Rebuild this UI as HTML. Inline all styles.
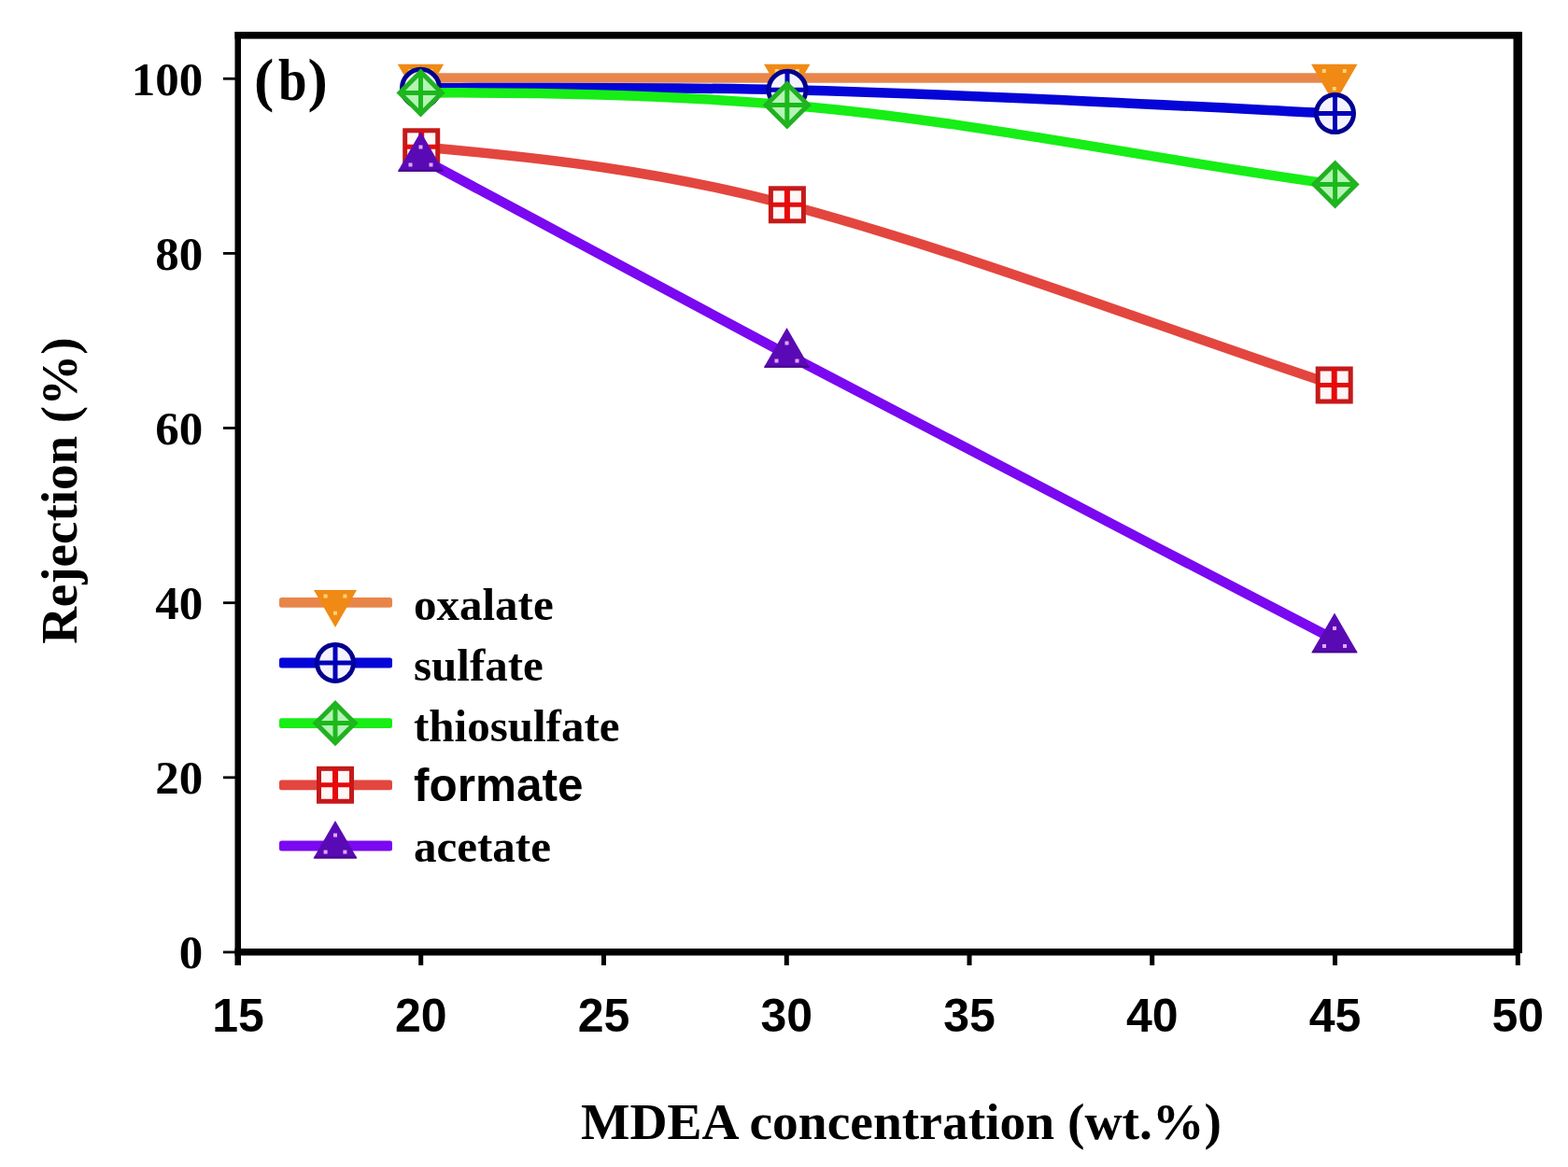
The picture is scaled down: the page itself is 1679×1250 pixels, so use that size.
<!DOCTYPE html><html><head><meta charset="utf-8"><title>Rejection vs MDEA concentration</title><style>html,body{margin:0;padding:0;background:#fff;}svg{display:block;}</style></head><body>
<svg width="1679" height="1250" viewBox="0 0 1679 1250">
<rect width="1679" height="1250" fill="#fff"/>
<path d="M450.5,83.5 L1429.5,83.5" fill="none" stroke="#E8864A" stroke-width="10.5" stroke-linecap="butt"/>
<polygon points="425.8,68.7 475.2,68.7 450.5,111.6" fill="#F08A14"/><rect x="437.5" y="74.0" width="4" height="4" fill="#FFD27A"/><rect x="459.5" y="74.0" width="4" height="4" fill="#FFD27A"/><rect x="448.5" y="93.0" width="4" height="4" fill="#FFD27A"/>
<polygon points="818.0,68.7 867.5,68.7 842.8,111.6" fill="#F08A14"/><rect x="829.8" y="74.0" width="4" height="4" fill="#FFD27A"/><rect x="851.8" y="74.0" width="4" height="4" fill="#FFD27A"/><rect x="840.8" y="93.0" width="4" height="4" fill="#FFD27A"/>
<polygon points="1404.0,68.7 1453.5,68.7 1428.8,111.6" fill="#F08A14"/><rect x="1415.8" y="74.0" width="4" height="4" fill="#FFD27A"/><rect x="1437.8" y="74.0" width="4" height="4" fill="#FFD27A"/><rect x="1426.8" y="93.0" width="4" height="4" fill="#FFD27A"/>
<path d="M450.5,94.3 C581.3,93.9 712.2,93.0 843.0,96.3 C1038.5,101.2 1234.0,111.8 1429.5,121.6" fill="none" stroke="#0505D8" stroke-width="10.5" stroke-linecap="butt"/>
<circle cx="450.5" cy="94.3" r="20" fill="#F4F2FF" stroke="#00008E" stroke-width="5"/><line x1="450.5" y1="74.3" x2="450.5" y2="114.3" stroke="#0000B8" stroke-width="5"/><line x1="430.5" y1="94.3" x2="470.5" y2="94.3" stroke="#0000B8" stroke-width="5"/>
<circle cx="843" cy="96.3" r="20" fill="#F4F2FF" stroke="#00008E" stroke-width="5"/><line x1="843" y1="76.3" x2="843" y2="116.3" stroke="#0000B8" stroke-width="5"/><line x1="823" y1="96.3" x2="863" y2="96.3" stroke="#0000B8" stroke-width="5"/>
<circle cx="1429.5" cy="121.6" r="20" fill="#F4F2FF" stroke="#00008E" stroke-width="5"/><line x1="1429.5" y1="101.6" x2="1429.5" y2="141.6" stroke="#0000B8" stroke-width="5"/><line x1="1409.5" y1="121.6" x2="1449.5" y2="121.6" stroke="#0000B8" stroke-width="5"/>
<path d="M450.5,99.5 C581.3,98.6 712.2,101.5 843.0,112.4 C1038.3,128.7 1233.7,171.0 1429.0,197.5" fill="none" stroke="#16EE16" stroke-width="10.5" stroke-linecap="butt"/>
<polygon points="450.5,77.0 473.0,99.5 450.5,122.0 428.0,99.5" fill="#B4F5B4" stroke="#22B022" stroke-width="5" stroke-linejoin="miter"/><line x1="450.5" y1="77.0" x2="450.5" y2="122.0" stroke="#1CB81C" stroke-width="5"/><line x1="428.0" y1="99.5" x2="473.0" y2="99.5" stroke="#1CB81C" stroke-width="5"/>
<polygon points="842.8,89.9 865.3,112.4 842.8,134.9 820.3,112.4" fill="#B4F5B4" stroke="#22B022" stroke-width="5" stroke-linejoin="miter"/><line x1="842.8" y1="89.9" x2="842.8" y2="134.9" stroke="#1CB81C" stroke-width="5"/><line x1="820.3" y1="112.4" x2="865.3" y2="112.4" stroke="#1CB81C" stroke-width="5"/>
<polygon points="1429.6,175.0 1452.1,197.5 1429.6,220.0 1407.1,197.5" fill="#B4F5B4" stroke="#22B022" stroke-width="5" stroke-linejoin="miter"/><line x1="1429.6" y1="175.0" x2="1429.6" y2="220.0" stroke="#1CB81C" stroke-width="5"/><line x1="1407.1" y1="197.5" x2="1452.1" y2="197.5" stroke="#1CB81C" stroke-width="5"/>
<path d="M451.0,157.5 C581.7,168.7 712.3,184.3 843.0,219.3 C1038.3,271.7 1233.7,347.8 1429.0,412.5" fill="none" stroke="#E3463E" stroke-width="10.5" stroke-linecap="butt"/>
<rect x="433.7" y="139.8" width="35" height="35" fill="#FFF6F6" stroke="#C41A1A" stroke-width="5"/><line x1="451.2" y1="139.8" x2="451.2" y2="174.8" stroke="#E60A0A" stroke-width="6"/><line x1="433.7" y1="157.3" x2="468.7" y2="157.3" stroke="#E60A0A" stroke-width="5"/>
<rect x="825.4" y="201.8" width="35" height="35" fill="#FFF6F6" stroke="#C41A1A" stroke-width="5"/><line x1="842.9" y1="201.8" x2="842.9" y2="236.8" stroke="#E60A0A" stroke-width="6"/><line x1="825.4" y1="219.3" x2="860.4" y2="219.3" stroke="#E60A0A" stroke-width="5"/>
<rect x="1411.2" y="395.0" width="35" height="35" fill="#FFF6F6" stroke="#C41A1A" stroke-width="5"/><line x1="1428.7" y1="395.0" x2="1428.7" y2="430.0" stroke="#E60A0A" stroke-width="6"/><line x1="1411.2" y1="412.5" x2="1446.2" y2="412.5" stroke="#E60A0A" stroke-width="5"/>
<path d="M450.5,169.5 C581.2,239.5 711.8,310.5 842.5,379.5 C1038.0,482.8 1233.5,583.2 1429.0,685.0" fill="none" stroke="#7A08F0" stroke-width="10.5" stroke-linecap="butt"/>
<polygon points="425.8,183.8 475.2,183.8 450.5,140.9" fill="#5A0AB4"/><line x1="426.8" y1="182.8" x2="474.2" y2="182.8" stroke="#46088C" stroke-width="2"/><rect x="437.5" y="174.5" width="4" height="4" fill="#E0A8FF"/><rect x="459.5" y="174.5" width="4" height="4" fill="#E0A8FF"/><rect x="448.5" y="155.5" width="4" height="4" fill="#E0A8FF"/>
<polygon points="817.8,393.8 867.2,393.8 842.5,350.9" fill="#5A0AB4"/><line x1="818.8" y1="392.8" x2="866.2" y2="392.8" stroke="#46088C" stroke-width="2"/><rect x="829.5" y="384.5" width="4" height="4" fill="#E0A8FF"/><rect x="851.5" y="384.5" width="4" height="4" fill="#E0A8FF"/><rect x="840.5" y="365.5" width="4" height="4" fill="#E0A8FF"/>
<polygon points="1404.2,699.3 1453.8,699.3 1429.0,656.4" fill="#5A0AB4"/><line x1="1405.2" y1="698.3" x2="1452.8" y2="698.3" stroke="#46088C" stroke-width="2"/><rect x="1416.0" y="690.0" width="4" height="4" fill="#E0A8FF"/><rect x="1438.0" y="690.0" width="4" height="4" fill="#E0A8FF"/><rect x="1427.0" y="671.0" width="4" height="4" fill="#E0A8FF"/>
<g fill="#000">
<rect x="251.5" y="34" width="6.5" height="1000"/>
<rect x="251.5" y="34" width="1378.5" height="7.6"/>
<rect x="1620.5" y="34" width="9.5" height="987"/>
<rect x="251.5" y="1016" width="1375.5" height="7.5"/>
<rect x="239" y="1018.5" width="14" height="2.8"/>
<rect x="239" y="831.4" width="14" height="2.8"/>
<rect x="239" y="644.3" width="14" height="2.8"/>
<rect x="239" y="457.1" width="14" height="2.8"/>
<rect x="239" y="270.0" width="14" height="2.8"/>
<rect x="239" y="82.9" width="14" height="2.8"/>
<rect x="252.5" y="1020" width="5" height="14"/>
<rect x="448.2" y="1020" width="5" height="14"/>
<rect x="644.0" y="1020" width="5" height="14"/>
<rect x="839.8" y="1020" width="5" height="14"/>
<rect x="1035.5" y="1020" width="5" height="14"/>
<rect x="1231.2" y="1020" width="5" height="14"/>
<rect x="1427.0" y="1020" width="5" height="14"/>
<rect x="1622.8" y="1020" width="5" height="14"/>
</g>
<g font-family="'Liberation Serif','Times New Roman',serif" font-weight="bold" font-size="51" text-anchor="end" fill="#000">
<text x="217.3" y="1037.4">0</text>
<text x="217.3" y="850.3">20</text>
<text x="217.3" y="663.2">40</text>
<text x="217.3" y="476.0">60</text>
<text x="217.3" y="288.9">80</text>
<text x="217.3" y="101.8">100</text>
</g>
<g font-family="'Liberation Sans',Arial,sans-serif" font-weight="bold" font-size="50" text-anchor="middle" fill="#000">
<text x="255.0" y="1104.5">15</text>
<text x="450.8" y="1104.5">20</text>
<text x="646.5" y="1104.5">25</text>
<text x="842.2" y="1104.5">30</text>
<text x="1038.0" y="1104.5">35</text>
<text x="1233.8" y="1104.5">40</text>
<text x="1429.5" y="1104.5">45</text>
<text x="1625.2" y="1104.5">50</text>
</g>
<text x="965" y="1219.6" font-family="'Liberation Serif','Times New Roman',serif" font-weight="bold" font-size="55.5" text-anchor="middle" fill="#000">MDEA concentration (wt.%)</text>
<text transform="translate(81.5,525.7) rotate(-90)" font-family="'Liberation Serif','Times New Roman',serif" font-weight="bold" font-size="55" text-anchor="middle" fill="#000">Rejection (%)</text>
<g font-family="'Liberation Serif','Times New Roman',serif" font-weight="bold" font-size="64" fill="#000"><text x="272" y="106.7">(</text><text transform="translate(313.3,106.7) scale(0.86,1)" text-anchor="middle">b</text><text x="329.5" y="106.7">)</text></g>
<rect x="299" y="639.9" width="121" height="10.8" rx="2.5" fill="#E8864A"/>
<polygon points="336.0,632.0 382.0,632.0 359.0,671.9" fill="#F08A14"/><rect x="346.6" y="636.6" width="4" height="4" fill="#FFD27A"/><rect x="367.4" y="636.6" width="4" height="4" fill="#FFD27A"/><rect x="357.0" y="654.7" width="4" height="4" fill="#FFD27A"/>
<text x="443" y="663.7" font-family="'Liberation Serif','Times New Roman',serif" font-weight="bold" font-size="49" fill="#000">oxalate</text>
<rect x="299" y="704.6" width="121" height="10.8" rx="2.5" fill="#0505D8"/>
<circle cx="359" cy="710" r="19.5" fill="#F4F2FF" stroke="#00008E" stroke-width="5"/><line x1="359" y1="690.5" x2="359" y2="729.5" stroke="#0000B8" stroke-width="5"/><line x1="339.5" y1="710" x2="378.5" y2="710" stroke="#0000B8" stroke-width="5"/>
<text x="443" y="728.6" font-family="'Liberation Serif','Times New Roman',serif" font-weight="bold" font-size="49" fill="#000">sulfate</text>
<rect x="299" y="769.2" width="121" height="10.8" rx="2.5" fill="#16EE16"/>
<polygon points="359,753.6 380,774.6 359,795.6 338,774.6" fill="#B4F5B4" stroke="#22B022" stroke-width="5" stroke-linejoin="miter"/><line x1="359" y1="753.6" x2="359" y2="795.6" stroke="#1CB81C" stroke-width="5"/><line x1="338" y1="774.6" x2="380" y2="774.6" stroke="#1CB81C" stroke-width="5"/>
<text x="443" y="793.6" font-family="'Liberation Serif','Times New Roman',serif" font-weight="bold" font-size="49" fill="#000">thiosulfate</text>
<rect x="299" y="835.4" width="121" height="10.8" rx="2.5" fill="#E3463E"/>
<rect x="341.5" y="823.3" width="35" height="35" fill="#FFF6F6" stroke="#C41A1A" stroke-width="5"/><line x1="359" y1="823.3" x2="359" y2="858.3" stroke="#E60A0A" stroke-width="6"/><line x1="341.5" y1="840.8" x2="376.5" y2="840.8" stroke="#E60A0A" stroke-width="5"/>
<text x="443" y="858.2" font-family="'Liberation Sans',Arial,sans-serif" font-weight="bold" font-size="49.5" fill="#000">formate</text>
<rect x="299" y="900.6" width="121" height="10.8" rx="2.5" fill="#7A08F0"/>
<polygon points="335.5,919.6 382.5,919.6 359.0,878.9" fill="#5A0AB4"/><line x1="336.5" y1="918.6" x2="381.5" y2="918.6" stroke="#46088C" stroke-width="2"/><rect x="346.6" y="910.6" width="4" height="4" fill="#E0A8FF"/><rect x="367.4" y="910.6" width="4" height="4" fill="#E0A8FF"/><rect x="357.0" y="892.6" width="4" height="4" fill="#E0A8FF"/>
<text x="443" y="922.8" font-family="'Liberation Serif','Times New Roman',serif" font-weight="bold" font-size="49" fill="#000">acetate</text>
</svg></body></html>
